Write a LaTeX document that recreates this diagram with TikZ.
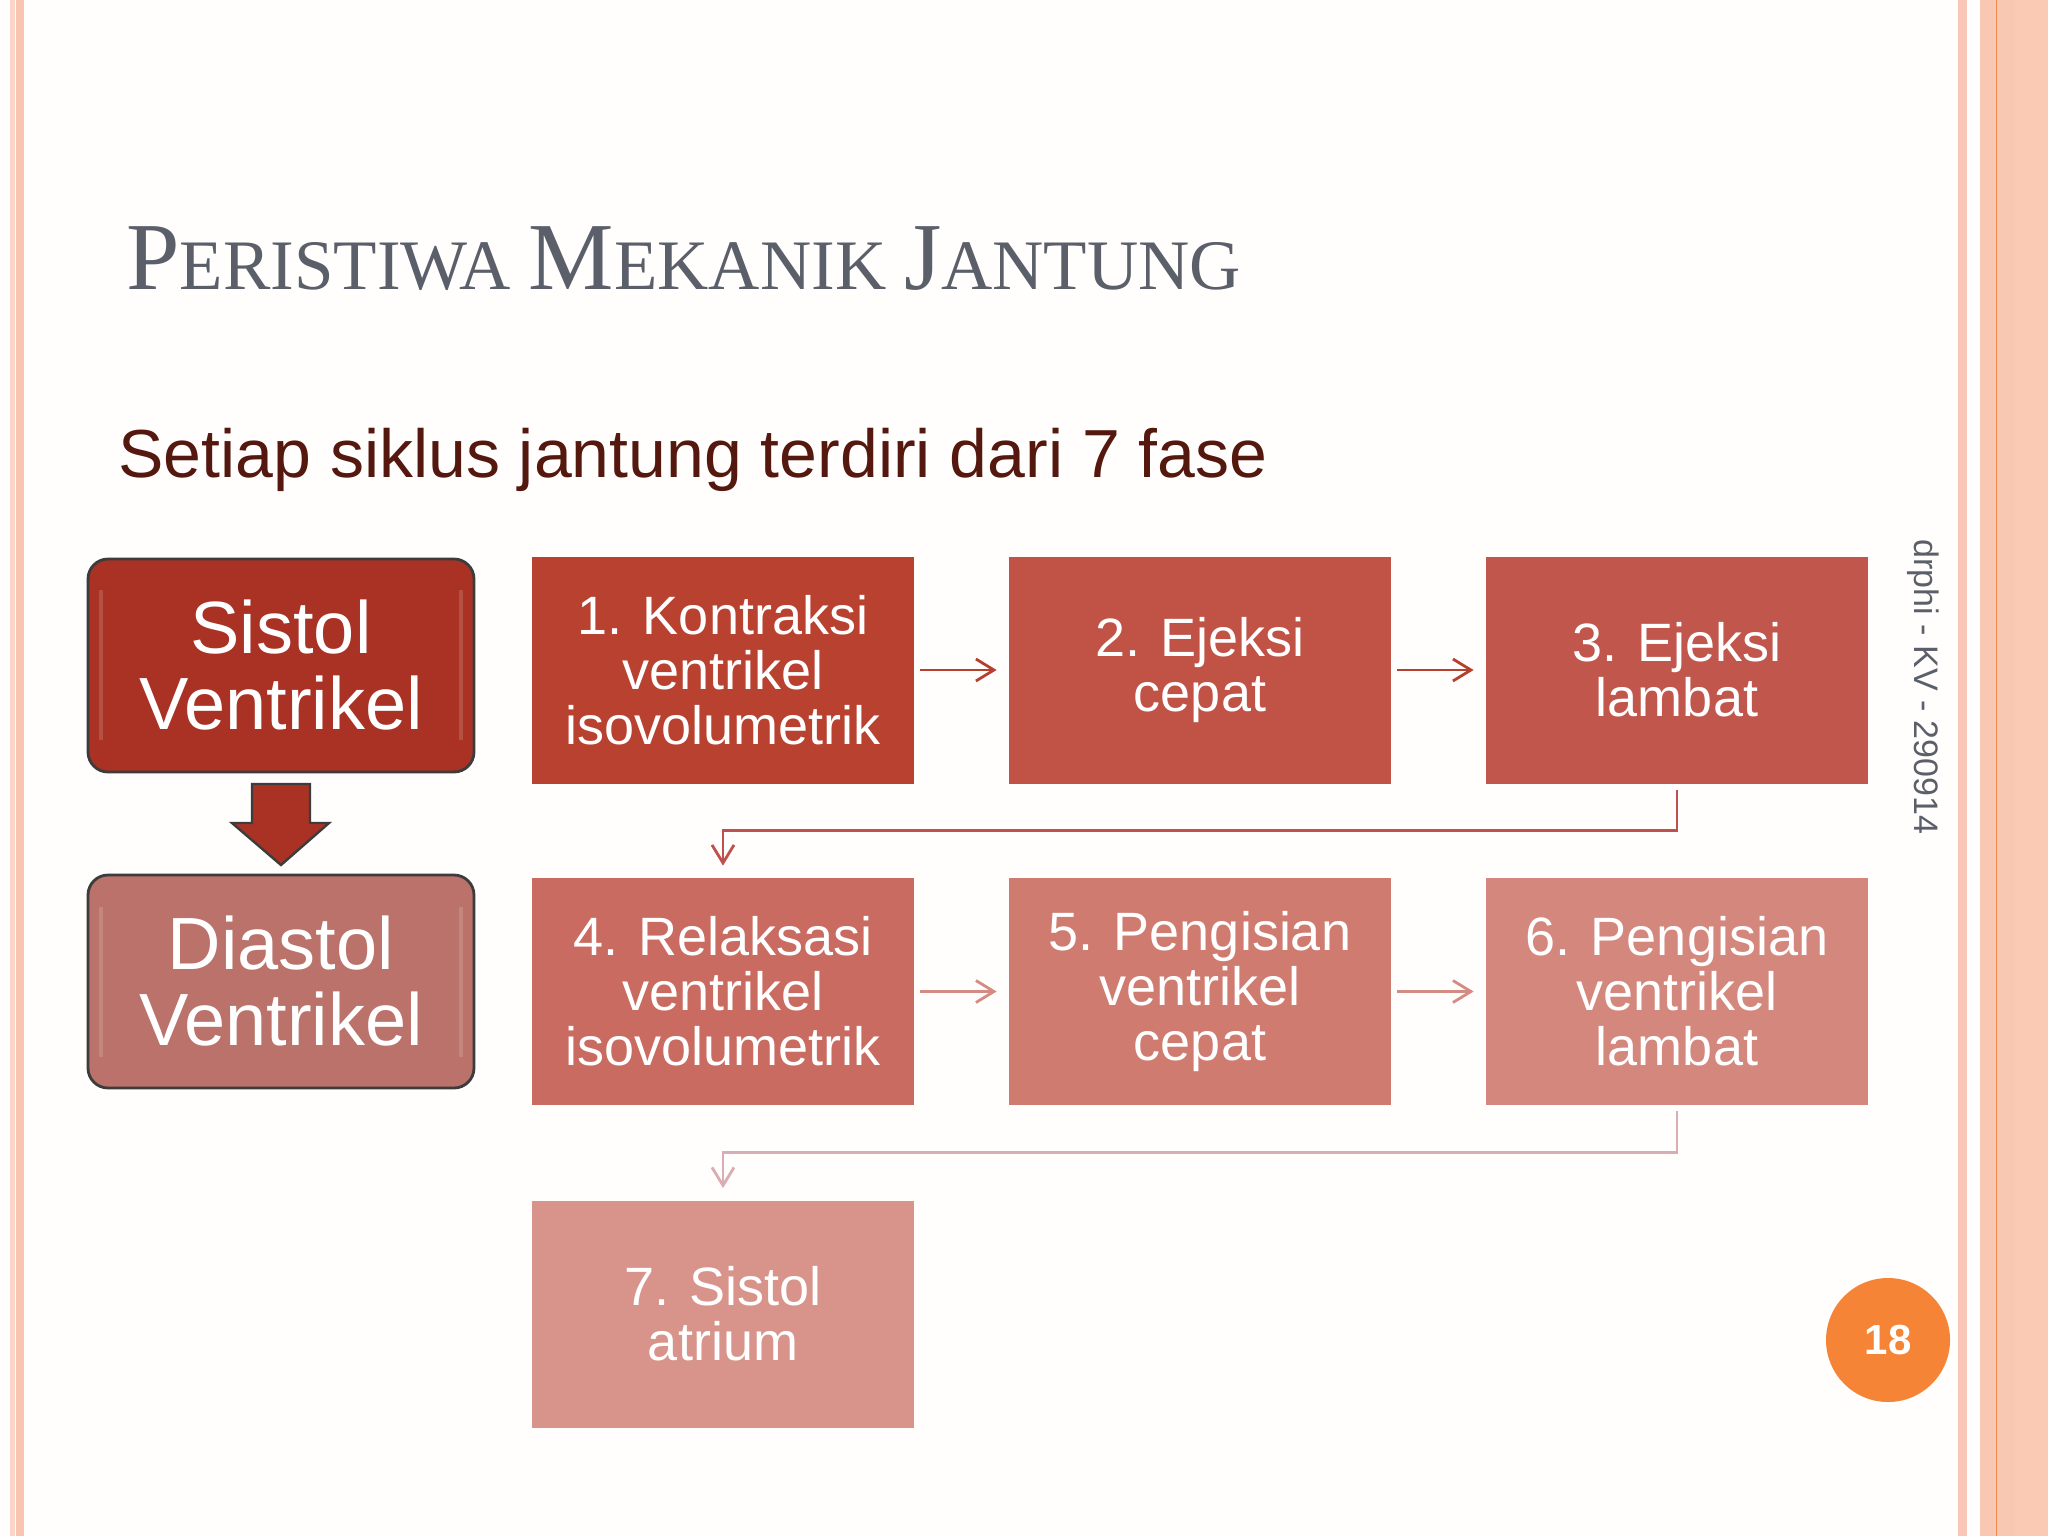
\documentclass[tikz,border=0pt]{standalone}
\usepackage{fontspec}
\setmainfont{Liberation Sans}
\newfontfamily\titlefont{Liberation Serif}
\usetikzlibrary{arrows.meta,calc}
\definecolor{bg}{RGB}{255,254,253}
\definecolor{stripeLa}{RGB}{251,214,200}
\definecolor{stripeLb}{RGB}{249,196,176}
\definecolor{stripeRa}{RGB}{250,198,184}
\definecolor{stripeRb}{RGB}{249,200,178}
\definecolor{stripeRc}{RGB}{250,202,181}
\definecolor{orangeline}{RGB}{240,138,80}
\definecolor{titlegray}{RGB}{90,95,106}
\definecolor{subbrown}{RGB}{84,24,14}
\definecolor{sisred}{RGB}{169,50,36}
\definecolor{diared}{RGB}{186,114,106}
\definecolor{edgegray}{RGB}{60,60,60}
\definecolor{cA}{RGB}{185,65,48}
\definecolor{cB}{RGB}{192,82,70}
\definecolor{cC}{RGB}{193,87,76}
\definecolor{cD}{RGB}{201,107,96}
\definecolor{cE}{RGB}{207,123,112}
\definecolor{cF}{RGB}{212,135,124}
\definecolor{cG}{RGB}{216,148,138}
\definecolor{arrA}{RGB}{181,64,47}
\definecolor{arrB}{RGB}{192,80,77}
\definecolor{arrC}{RGB}{212,140,130}
\definecolor{arrD}{RGB}{218,172,180}
\definecolor{pgorange}{RGB}{245,132,55}
\newcommand\ttlcap[1]{{\fontsize{48}{50}\selectfont #1}}
\tikzset{
  phase/.style={rectangle, minimum width=191pt, minimum height=113.5pt, inner sep=0pt,
    text=white, align=center, font=\fontsize{27}{27.5}\selectfont},
  bigbox/.style={rectangle, rounded corners=10pt, minimum width=193pt, minimum height=106.5pt,
    draw=edgegray, line width=1.4pt, text=white, align=center, font=\fontsize{37}{38}\selectfont},
  flow/.style={line width=1.4pt, -{Straight Barb[length=9pt,width=11pt,line width=1.4pt]}},
}
\begin{document}
\begin{tikzpicture}[x=0.5pt,y=-0.5pt]
\useasboundingbox (0,0) rectangle (2048,1536);
\fill[bg] (0,0) rectangle (2048,1536);
% side stripes
\fill[stripeLa] (10,0) rectangle (15,1536);
\fill[stripeLb] (16,0) rectangle (24,1536);
\fill[stripeRa] (1958,0) rectangle (1967,1536);
\fill[stripeRb] (1980,0) rectangle (2048,1536);
\fill[stripeRc] (2015,0) rectangle (2048,1536);
\draw[orangeline, line width=0.8pt] (1996.5,0) -- (1996.5,1536);
% title and subtitle
\node[anchor=base west, inner sep=0pt, text=titlegray, font=\titlefont\fontsize{35.5}{40}\selectfont] (title) at (126,289)
  {\ttlcap{P}ERISTIWA \ttlcap{M}EKANIK \ttlcap{J}ANTUNG};
\node[anchor=base west, inner sep=0pt, text=subbrown, font=\fontsize{34}{40}\selectfont] (sub) at (118,477)
  {Setiap siklus jantung terdiri dari 7 fase};
% left boxes
\node[bigbox, fill=sisred] (sis) at (281,665.5) {Sistol\\Ventrikel};
\node[bigbox, fill=diared] (dia) at (281,981.5) {Diastol\\Ventrikel};
\fill[white, opacity=0.15] (99,590) rectangle (103,740);
\fill[white, opacity=0.15] (459,590) rectangle (463,740);
\fill[white, opacity=0.15] (99,907) rectangle (103,1057);
\fill[white, opacity=0.15] (459,907) rectangle (463,1057);
\draw[fill=sisred, draw=edgegray, line width=1.2pt, line join=miter]
  (252,784) -- (310,784) -- (310,823) -- (329,823) -- (281,865) -- (232,823) -- (252,823) -- cycle;
% phase boxes
\node[phase, fill=cA] (p1) at (723,670) {1. Kontraksi\\ventrikel\\isovolumetrik};
\node[phase, fill=cB] (p2) at (1200,670) {2. Ejeksi\\cepat};
\node[phase, fill=cC] (p3) at (1677,670) {3. Ejeksi\\lambat};
\node[phase, fill=cD] (p4) at (723,991.5) {4. Relaksasi\\ventrikel\\isovolumetrik};
\node[phase, fill=cE] (p5) at (1200,991.5) {5. Pengisian\\ventrikel\\cepat};
\node[phase, fill=cF] (p6) at (1677,991.5) {6. Pengisian\\ventrikel\\lambat};
\node[phase, fill=cG] (p7) at (723,1314) {7. Sistol\\atrium};
% connectors
\draw[flow, arrA] ([xshift=3pt]p1.east) -- ([xshift=-6pt]p2.west);
\draw[flow, arrA] ([xshift=3pt]p2.east) -- ([xshift=-6pt]p3.west);
\coordinate (m34) at ($(p3.south)!0.5!(p6.north)$);
\draw[flow, arrB] ([yshift=-3pt]p3.south) -- (m34) -| ([yshift=6pt]p4.north);
\draw[flow, arrC] ([xshift=3pt]p4.east) -- ([xshift=-6pt]p5.west);
\draw[flow, arrC] ([xshift=3pt]p5.east) -- ([xshift=-6pt]p6.west);
\coordinate (m67) at ($(p6.south)!0.5!(p6.south |- p7.north)$);
\draw[flow, arrD] ([yshift=-3pt]p6.south) -- (m67) -| ([yshift=6pt]p7.north);
% footer tag and page number
\node[rotate=-90, inner sep=0pt, text=titlegray, font=\fontsize{17}{20}\selectfont] (tag) at (1923,687) {drphi - KV - 290914};
\node[circle, fill=pgorange, minimum size=62pt, inner sep=0pt, text=white, font=\bfseries\fontsize{21}{24}\selectfont] (pg) at (1888,1340) {18};
\end{tikzpicture}
\end{document}
